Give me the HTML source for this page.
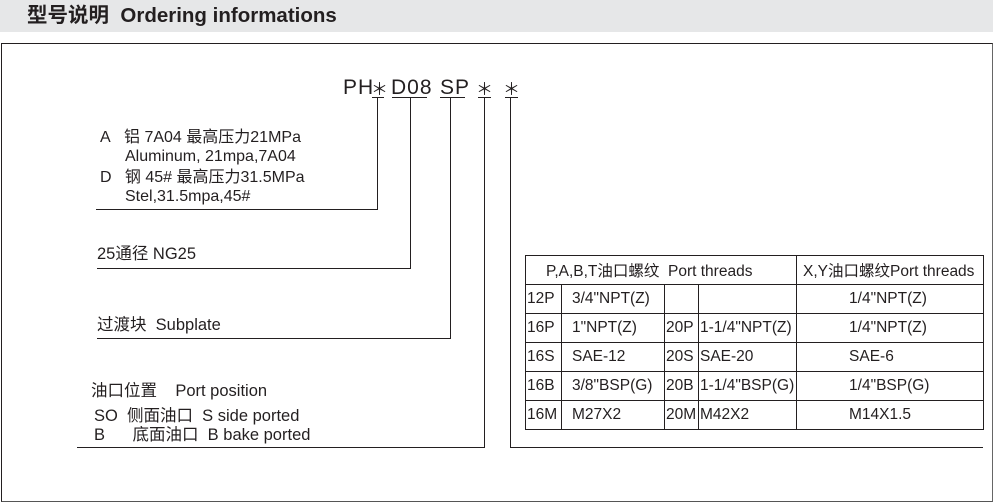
<!DOCTYPE html>
<html><head><meta charset="utf-8"><style>
body{margin:0;width:993px;height:503px;background:#fff;position:relative;overflow:hidden;font-family:"Liberation Sans","Noto Sans CJK SC",sans-serif;color:#231f20}
.a{position:absolute;white-space:nowrap;line-height:1}
.h{position:absolute;background:#231f20;height:1.3px}
.v{position:absolute;background:#231f20;width:1.3px}
.c{position:absolute;white-space:nowrap;line-height:1;font-size:21px;top:77px;letter-spacing:1px}
.s{position:absolute;white-space:nowrap;line-height:1;font-size:17px;top:79px;font-family:"Noto Sans CJK SC",sans-serif}
table{position:absolute;left:525px;top:255px;border-collapse:collapse;font-size:15.5px;table-layout:fixed;width:458px}
td{border:1.3px solid #231f20;height:28px;padding:0 0 0 1px;white-space:nowrap;overflow:hidden}
</style></head><body>
<div style="position:absolute;left:0;top:0;width:993px;height:32px;background:#e6e7e8"></div>
<div class="a" style="left:27px;top:6px;font-size:20.5px;font-weight:bold">型号说明&nbsp; Ordering informations</div>
<div style="position:absolute;left:1px;top:43px;width:990px;height:457px;border:1.3px solid #231f20;border-right-color:#666;border-bottom-color:#555"></div>
<div class="c" style="left:343px">PH</div>
<div class="s" style="left:371px">＊</div>
<div class="c" style="left:391px">D08</div>
<div class="c" style="left:440px">SP</div>
<div class="s" style="left:476px">＊</div>
<div class="s" style="left:503px">＊</div>
<!-- underlines -->
<div class="h" style="left:372px;top:97px;width:12px"></div>
<div class="h" style="left:392px;top:97px;width:35px"></div>
<div class="h" style="left:440px;top:97px;width:25px"></div>
<div class="h" style="left:478px;top:97px;width:13px"></div>
<div class="h" style="left:505px;top:97px;width:13px"></div>
<!-- connectors -->
<div class="v" style="left:377px;top:97px;height:113px"></div>
<div class="h" style="left:96px;top:209px;width:282px"></div>
<div class="v" style="left:410px;top:97px;height:172px"></div>
<div class="h" style="left:97px;top:268px;width:314px"></div>
<div class="v" style="left:450px;top:97px;height:242px"></div>
<div class="h" style="left:97px;top:338px;width:354px"></div>
<div class="v" style="left:484px;top:97px;height:351px"></div>
<div class="h" style="left:77px;top:447px;width:408px"></div>
<div class="v" style="left:510px;top:97px;height:351px"></div>
<div class="h" style="left:510px;top:447px;width:473px"></div>
<!-- texts -->
<div class="a" style="left:100px;top:130px;font-size:16px">A&nbsp;&nbsp; 铝 7A04 最高压力21MPa</div>
<div class="a" style="left:125px;top:149px;font-size:16px">Aluminum, 21mpa,7A04</div>
<div class="a" style="left:100px;top:170px;font-size:16px">D&nbsp;&nbsp; 钢 45# 最高压力31.5MPa</div>
<div class="a" style="left:125px;top:189px;font-size:16px">Stel,31.5mpa,45#</div>
<div class="a" style="left:97px;top:246px;font-size:16.5px">25通径 NG25</div>
<div class="a" style="left:97px;top:317px;font-size:16.5px">过渡块&nbsp; Subplate</div>
<div class="a" style="left:91px;top:383px;font-size:16.5px">油口位置&nbsp;&nbsp;&nbsp; Port position</div>
<div class="a" style="left:94px;top:408px;font-size:16.5px">SO&nbsp; 侧面油口&nbsp; S side ported</div>
<div class="a" style="left:94px;top:427px;font-size:16.5px">B&nbsp;&nbsp;&nbsp;&nbsp;&nbsp; 底面油口&nbsp; B bake ported</div>
<table>
<colgroup><col style="width:36px"><col style="width:103px"><col style="width:34px"><col style="width:98px"><col style="width:187px"></colgroup>
<tr><td colspan="4" style="height:25px;padding-left:20px">P,A,B,T油口螺纹&nbsp; Port threads</td><td style="padding-left:6px">X,Y油口螺纹Port threads</td></tr>
<tr><td>12P</td><td style="padding-left:10px">3/4"NPT(Z)</td><td></td><td></td><td style="padding-left:52px">1/4"NPT(Z)</td></tr>
<tr><td>16P</td><td style="padding-left:10px">1"NPT(Z)</td><td>20P</td><td>1-1/4"NPT(Z)</td><td style="padding-left:52px">1/4"NPT(Z)</td></tr>
<tr><td>16S</td><td style="padding-left:10px">SAE-12</td><td>20S</td><td>SAE-20</td><td style="padding-left:52px">SAE-6</td></tr>
<tr><td>16B</td><td style="padding-left:10px">3/8"BSP(G)</td><td>20B</td><td>1-1/4"BSP(G)</td><td style="padding-left:52px">1/4"BSP(G)</td></tr>
<tr><td>16M</td><td style="padding-left:10px">M27X2</td><td>20M</td><td>M42X2</td><td style="padding-left:52px">M14X1.5</td></tr>
</table>
</body></html>
